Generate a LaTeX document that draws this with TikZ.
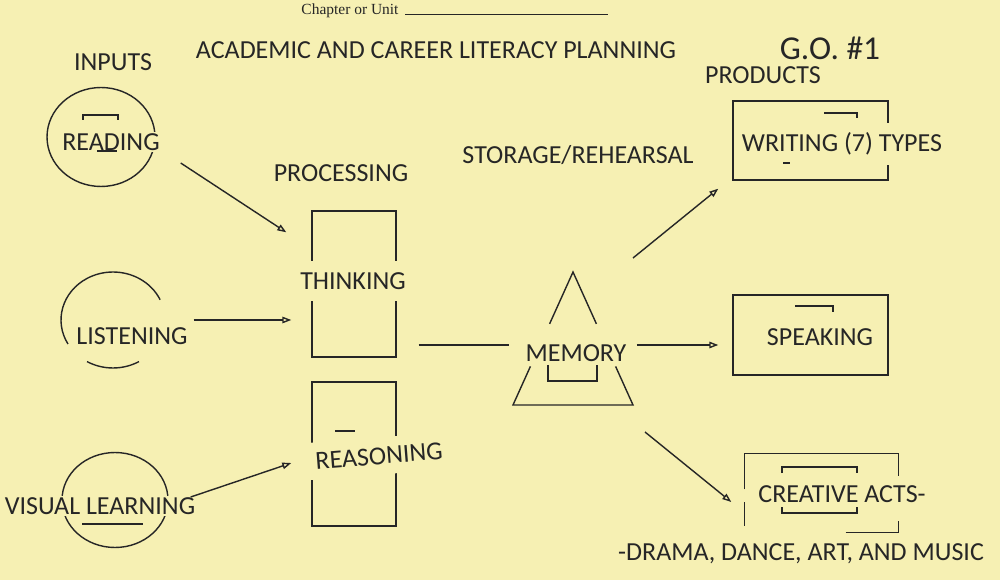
\documentclass[tikz,border=0pt]{standalone}
\usepackage{fontspec}
\setmainfont{Carlito}
\newfontfamily\chapfont{Liberation Serif}
\usetikzlibrary{shapes.geometric,arrows.meta,calc}
\definecolor{paper}{HTML}{F6F0B3}
\definecolor{ink}{HTML}{262626}

\begin{document}
\begin{tikzpicture}[x=0.02cm, y=-0.02cm, line width=0.8pt, color=ink,
	lbl/.style={font=\fontsize{14.8}{17}\selectfont, text=ink, fill=paper, inner sep=1pt},
	ring/.style={ellipse, draw=ink, inner sep=0pt},
	panel/.style={rectangle, draw=ink, inner sep=0pt},
	link/.style={-{Triangle[open,length=1.8mm,width=1.3mm]}},]

\useasboundingbox (0,0) rectangle (1000,580);
\fill[paper] (0,0) rectangle (1000,580);

% heading
\node[font=\chapfont\fontsize{8.8}{10}\selectfont, inner sep=0pt] (chapter) at (350,11) {Chapter or Unit};
\draw[line width=0.5pt] ([xshift=0.12cm]chapter.base east) -- ++(203,0);
\node[lbl] (title) at (436,50) {ACADEMIC AND CAREER LITERACY PLANNING};
\node[lbl, font=\fontsize{19}{21}\selectfont] (gonum) at (830,48) {G.O. \#1};
\node[lbl] (inputs) at (113,62) {INPUTS};
\node[lbl] (processing) at (341,173) {PROCESSING};
\node[lbl] (storage) at (578,155) {STORAGE/REHEARSAL};
\node[lbl] (products) at (763,75) {PRODUCTS};

% inputs
\node[ring, minimum width=2.16cm, minimum height=1.98cm] (readc) at (101,137) {};
\node[lbl] (reading) at (111,142) {READING};
\draw (83,120) -- (83,115) -- (118,115) -- (118,120);
\draw (97,151) -- (117,151);
\node[ring, draw=none, minimum width=2.08cm, minimum height=1.92cm] (listc) at (113,320) {};
\draw ([shift={(210:1.04cm and 0.96cm)}]listc.center) arc[start angle=210, end angle=25, x radius=1.04cm, y radius=0.96cm];
\draw ([shift={(240:1.04cm and 0.96cm)}]listc.center) arc[start angle=240, end angle=300, x radius=1.04cm, y radius=0.96cm];
\node[lbl] (listening) at (132,336) {LISTENING};
\node[ring, minimum width=2.12cm, minimum height=1.9cm] (visc) at (115,500) {};
\node[lbl] (visual) at (100,506) {VISUAL LEARNING};
\draw (82,524) -- (143,524);

% processing
\node[panel, minimum width=1.68cm, minimum height=2.92cm] (thinkbox) at (354,284) {};
\node[lbl, inner ysep=0.22cm] (thinking) at (353,281) {THINKING};
\node[panel, minimum width=1.68cm, minimum height=2.88cm] (reasonbox) at (354,454) {};
\node[lbl, inner xsep=0.12cm, inner ysep=0.2cm, rotate=4.5] (reasoning) at (379,456) {REASONING};
\draw (335,431) -- (355,431);

% storage
\coordinate (apex) at (573,272);
\coordinate (baseL) at (513,405);
\coordinate (baseR) at (633,405);
\draw ($(apex)!0.39!(baseL)$) -- (apex) -- ($(apex)!0.39!(baseR)$);
\draw ($(apex)!0.71!(baseL)$) -- (baseL) -- (baseR) -- ($(apex)!0.71!(baseR)$);
\draw (548,365) -- (548,381) -- (597,381) -- (597,365);
\node[lbl] (memory) at (576,353) {MEMORY};
\coordinate (mleft) at ([yshift=0.16cm]memory.west);
\coordinate (mright) at ([yshift=0.16cm]memory.east);

% products
\node[panel, minimum width=3.1cm, minimum height=1.58cm] (writebox) at (810.5,140.5) {};
\node[lbl, inner ysep=0.2cm] (writing) at (842,144) {WRITING (7) TYPES};
\draw (824,113) -- (857,113) -- (857,118);
\draw (783,163) -- (790,163);
\node[panel, minimum width=3.1cm, minimum height=1.6cm] (speakbox) at (810.5,335) {};
\node[lbl] (speaking) at (820,337) {SPEAKING};
\draw (795,306) -- (833,306) -- (833,312);
\node[minimum width=3.06cm, minimum height=1.56cm, inner sep=0pt] (creatbox) at (821.5,493) {};
\draw ([yshift=-0.72cm]creatbox.north west) -- (creatbox.north west) -- (creatbox.north east) -- ([yshift=-0.46cm]creatbox.north east);
\draw ([yshift=-0.98cm]creatbox.north west) -- ([yshift=-1.46cm]creatbox.north west);
\draw ([xshift=-1.06cm]creatbox.south east) -- (creatbox.south east) -- ([yshift=0.24cm]creatbox.south east);
\node[lbl] (creative) at (842,494) {CREATIVE ACTS-};
\draw (782,473) -- (782,467) -- (857,467) -- (857,473);
\draw (782,507) -- (782,513) -- (857,513) -- (857,507);
\node[lbl] (drama) at (801,554) {-DRAMA, DANCE, ART, AND MUSIC};

% connectors
\draw[link] ([shift={(25,26)}]readc.east) -- ([shift={(-25,22)}]thinkbox.north west);
\draw[link] ([xshift=0.56cm]listc.east) -- ([shift={(-20,36)}]thinkbox.west);
\draw[link] ([shift={(22,-3)}]visc.east) -- ([shift={(-20,9)}]reasonbox.west);
\draw[shorten <=0.44cm, shorten >=0.28cm] (thinkbox.east |- mleft) -- (mleft);
\draw[link, shorten <=0.16cm, shorten >=0.28cm] (mright) -- (speakbox.west |- mright);
\draw[link] ([shift={(60,-14)}]apex) -- ([shift={(-14,8)}]writebox.south west);
\draw[link] ([shift={(12,27)}]baseR) -- ([shift={(-13,9)}]creatbox.west);

\end{tikzpicture}
\end{document}
